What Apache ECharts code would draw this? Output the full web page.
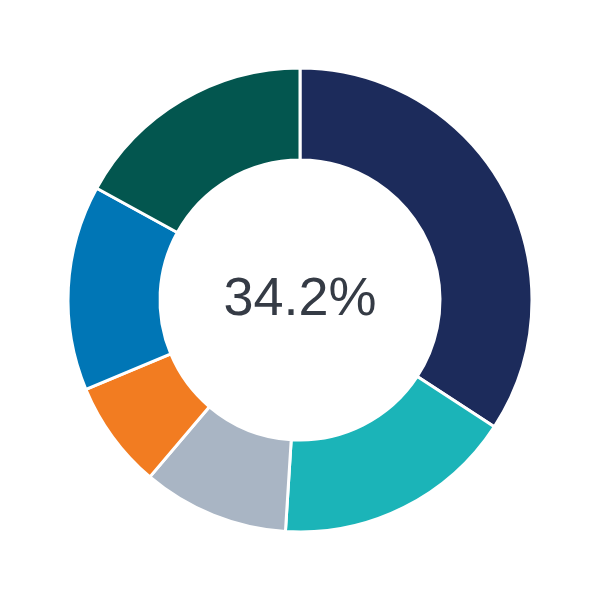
<!DOCTYPE html>
<html>
<head>
<meta charset="utf-8">
<script src="https://cdn.jsdelivr.net/npm/echarts@6/dist/echarts.min.js"></script>
<style>
  html, body { margin: 0; padding: 0; background: #fff; }
  #chart { width: 600px; height: 600px; }
</style>
</head>
<body>
<div id="chart"></div>
<script>
// 数据
var names = ["A", "B", "C", "D", "E", "F"];
var values = [34.2, 16.8, 10.2, 7.5, 14.3, 17.0];
var colors = ["#1c2b5b", "#1bb4b8", "#a9b5c4", "#f27c21", "#0076b6", "#03564f"];
var centerLabel = "34.2%";

(function () {
    var myChart = echarts.init(document.getElementById("chart"));
    var option = {
        color: colors,
        title: {
            text: centerLabel,
            left: "center",
            top: "middle",
            textStyle: {
                fontFamily: "Liberation Sans",
                fontSize: 54,
                fontWeight: "normal",
                color: "#353b45"
            }
        },
        series: [
            {
                type: "pie",
                center: ["50%", "50%"],
                radius: [140, 232],
                startAngle: 90,
                clockwise: true,
                silent: true,
                label: { show: false },
                labelLine: { show: false },
                itemStyle: {
                    borderColor: "#fff",
                    borderWidth: 3
                },
                data: names.map(function (n, i) {
                    return { name: n, value: values[i] };
                })
            }
        ]
    };
    myChart.setOption(option);
})();
</script>
</body>
</html>
